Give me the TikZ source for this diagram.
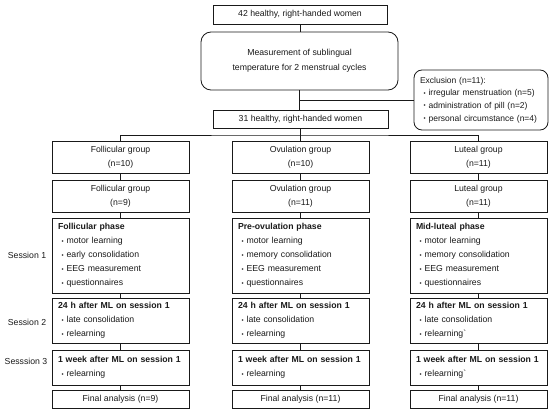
\documentclass[tikz,border=0pt]{standalone}
\usepackage{fontspec}
\setmainfont{Liberation Sans}
\newcommand\itm{\hspace*{3.5pt}{\fontsize{6}{6}\selectfont\raisebox{0.6pt}{•}}\hspace{3pt}}
\begin{document}
\begin{tikzpicture}[x=1pt,y=-1pt,
  every node/.style={text=black!90},
  base/.style={draw=black!90, line width=0.8pt, inner ysep=0pt,
    font=\fontsize{8.7}{14}\selectfont},
  cbox/.style={base, align=center, inner xsep=2pt},
  lbox/.style={base, align=left, inner xsep=6pt, text width=125pt, minimum width=137pt},
  gbox/.style={cbox, minimum width=137pt, minimum height=32pt},
  fbox/.style={cbox, minimum width=137pt, minimum height=18pt},
  lab/.style={font=\fontsize{8.7}{14}\selectfont},
  conn/.style={draw=black!90, line width=0.8pt}]
\useasboundingbox (0,0) rectangle (550,415);

% top part
\node[cbox, minimum width=174pt, minimum height=19pt] (n42) at (300,14.5) {42 healthy, right-handed women};
\node[cbox, rounded corners=10pt, minimum width=197pt, minimum height=58pt,
  font=\fontsize{8.7}{15}\selectfont] (meas) at (299.5,61)
  {Measurement of sublingual\\temperature for 2 menstrual cycles};
\node[base, rounded corners=8pt, align=left, inner xsep=6pt, text width=122pt,
  minimum width=134pt, minimum height=60pt, font=\fontsize{8.5}{12.7}\selectfont] (excl) at (481,100)
  {Exclusion (n=11):\\\itm irregular menstruation (n=5)\\\itm administration of pill (n=2)\\\itm personal circumstance (n=4)};
\node[cbox, minimum width=175pt, minimum height=18pt] (n31) at (300.5,119) {31 healthy, right-handed women};

% column 1
\node[gbox] (g1a) at (120.5,157) {Follicular group\\(n=10)};
\node[gbox] (g1b) at (120.5,196) {Follicular group\\(n=9)};
\node[lbox, minimum height=75pt] (s1a) at (120.5,255.5)
  {\textbf{Follicular phase}\\\itm motor learning\\\itm early consolidation\\\itm EEG measurement\\\itm questionnaires};
\node[lbox, minimum height=45pt] (s1b) at (120.5,320.5)
  {\textbf{24 h after ML on session 1}\\\itm late consolidation\\\itm relearning};
\node[lbox, minimum height=35pt] (s1c) at (120.5,367.5)
  {\textbf{1 week after ML on session 1}\\\itm relearning};
\node[fbox] (f1) at (120.5,399) {Final analysis (n=9)};

% column 2
\node[gbox] (g2a) at (300.5,157) {Ovulation group\\(n=10)};
\node[gbox] (g2b) at (300.5,196) {Ovulation group\\(n=11)};
\node[lbox, minimum height=75pt] (s2a) at (300.5,255.5)
  {\textbf{Pre-ovulation phase}\\\itm motor learning\\\itm memory consolidation\\\itm EEG measurement\\\itm questionnaires};
\node[lbox, minimum height=45pt] (s2b) at (300.5,320.5)
  {\textbf{24 h after ML on session 1}\\\itm late consolidation\\\itm relearning};
\node[lbox, minimum height=35pt] (s2c) at (300.5,367.5)
  {\textbf{1 week after ML on session 1}\\\itm relearning};
\node[fbox] (f2) at (300.5,399) {Final analysis (n=11)};

% column 3
\node[gbox] (g3a) at (478.5,157) {Luteal group\\(n=11)};
\node[gbox] (g3b) at (478.5,196) {Luteal group\\(n=11)};
\node[lbox, minimum height=75pt] (s3a) at (478.5,255.5)
  {\textbf{Mid-luteal phase}\\\itm motor learning\\\itm memory consolidation\\\itm EEG measurement\\\itm questionnaires};
\node[lbox, minimum height=45pt] (s3b) at (478.5,320.5)
  {\textbf{24 h after ML on session 1}\\\itm late consolidation\\\itm relearning\textasciigrave};
\node[lbox, minimum height=35pt] (s3c) at (478.5,367.5)
  {\textbf{1 week after ML on session 1}\\\itm relearning\textasciigrave};
\node[fbox] (f3) at (478.5,399) {Final analysis (n=11)};

% session labels
\node[lab] (l1) at (27,255) {Session 1};
\node[lab] (l2) at (27,322) {Session 2};
\node[lab] (l3) at (26,361) {Sesssion 3};

% connectors
\draw[conn] (n42.south) -- (n42.south |- meas.north);
\draw[conn] (meas.south) -- (meas.south |- n31.north);
\draw[conn] (meas.south |- excl.west) -- (excl.west);
\coordinate (br) at (300.5,135);
\draw[conn] (n31.south) -- (br);
\draw[conn] (g1a.north) |- (br) -| (g3a.north);
\draw[conn] (br) -- (g2a.north);
\foreach \c in {1,2,3}{
  \draw[conn] (g\c a) -- (g\c b);
  \draw[conn] (g\c b) -- (s\c a);
  \draw[conn] (s\c a) -- (s\c b);
  \draw[conn] (s\c b) -- (s\c c);
  \draw[conn] (s\c c) -- (f\c);
}
\end{tikzpicture}
\end{document}
